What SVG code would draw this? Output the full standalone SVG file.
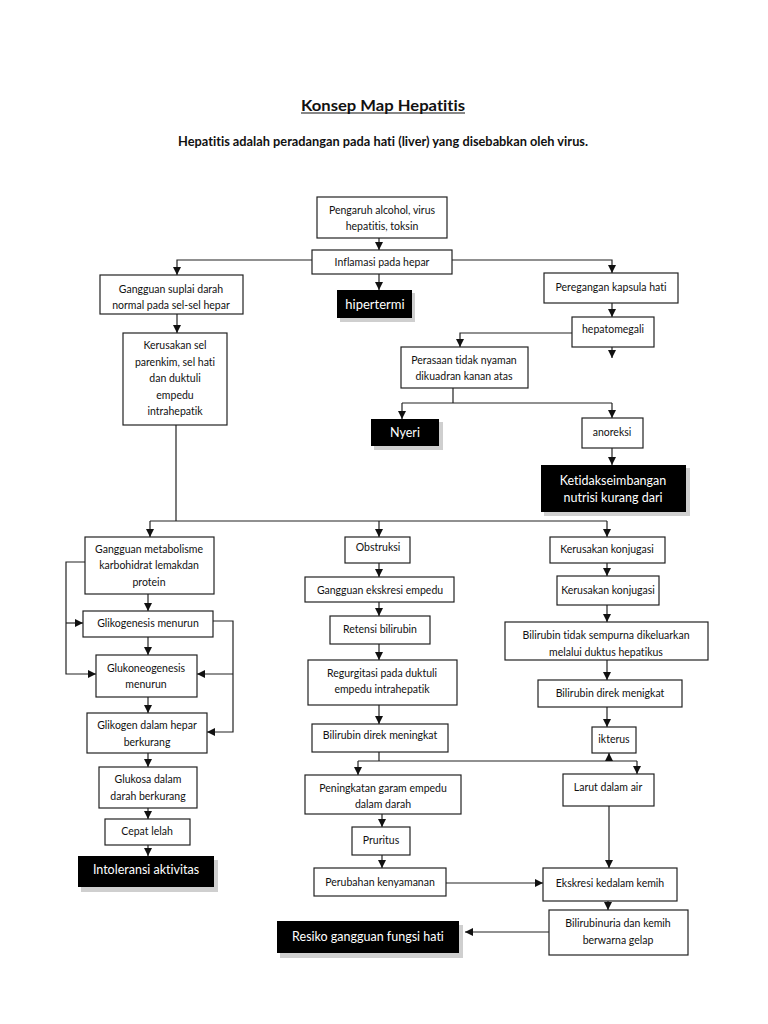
<svg xmlns="http://www.w3.org/2000/svg" width="768" height="1024" viewBox="0 0 768 1024">
<defs>
<marker id="ah" markerWidth="8" markerHeight="8" refX="8" refY="4" orient="auto" markerUnits="userSpaceOnUse"><path d="M0,0 L8,4 L0,8 z" fill="#111"/></marker>
<style>
.b{fill:#fff;stroke:#222;stroke-width:1.2}
.k{fill:#000}
.s{fill:#cfcfcf}
text{font-family:Lato,"Open Sans","Liberation Sans",sans-serif;text-anchor:middle;dominant-baseline:central;font-variant-ligatures:none}
.t{font-size:10.5px;fill:#111}
.w{font-size:12.5px;fill:#fff}
.c{fill:none;stroke:#222;stroke-width:1.2;marker-end:url(#ah)}
.l{fill:none;stroke:#222;stroke-width:1.2}
</style>
</defs>
<rect width="768" height="1024" fill="#fff"/>
<text x="383" y="104" font-size="16" font-weight="bold" fill="#111" textLength="164" lengthAdjust="spacingAndGlyphs">Konsep Map Hepatitis</text>
<line x1="301" y1="113" x2="465" y2="113" stroke="#111" stroke-width="1.2"/>
<text x="383" y="141" font-size="12.5" font-weight="bold" fill="#111" textLength="410" lengthAdjust="spacingAndGlyphs">Hepatitis adalah peradangan pada hati (liver) yang disebabkan oleh virus.</text>

<g id="connectors">
<path class="c" d="M379,238 V250"/>
<path class="c" d="M379,274 V290"/>
<path class="c" d="M312,260 H177 V275"/>
<path class="c" d="M452,260 H612 V273"/>
<path class="c" d="M612,303 V317"/>
<path class="c" d="M612,347 V358"/>
<path class="c" d="M572,333 H460 V347"/>
<path class="c" d="M177,314 V333"/>
<path class="l" d="M453,388 V403 M402,403 H612"/>
<path class="c" d="M402,403 V419"/>
<path class="c" d="M612,403 V418"/>
<path class="c" d="M612,448 V465"/>
<path class="l" d="M176,425 V521 M150,521 H607"/>
<path class="c" d="M150,521 V537"/>
<path class="c" d="M379,521 V537"/>
<path class="c" d="M607,521 V537"/>
<path class="c" d="M148,594 V611"/>
<path class="c" d="M148,637 V655"/>
<path class="c" d="M148,697 V713"/>
<path class="c" d="M148,753 V767"/>
<path class="c" d="M148,808 V819"/>
<path class="c" d="M148,845 V856"/>
<path class="c" d="M85,562 H66 V674 H96"/>
<path class="c" d="M66,623 H83"/>
<path class="c" d="M213,621 H233 V732 H207"/>
<path class="c" d="M233,674 H197"/>
<path class="c" d="M379,563 V577"/>
<path class="c" d="M379,602 V616"/>
<path class="c" d="M379,644 V660"/>
<path class="c" d="M379,705 V724"/>
<path class="l" d="M379,752 V761 M358,761 H637"/>
<path class="c" d="M358,761 V775"/>
<path class="c" d="M637,761 V774"/>
<path class="c" d="M609,761 V753"/>
<path class="c" d="M382,814 V827"/>
<path class="c" d="M382,855 V868"/>
<path class="c" d="M446,883 H543"/>
<path class="c" d="M609,806 V868"/>
<path class="c" d="M608,901 V910"/>
<path class="c" d="M549,932 H465"/>
<path class="c" d="M607,563 V576"/>
<path class="c" d="M607,605 V622"/>
<path class="c" d="M607,660 V680"/>
<path class="c" d="M607,707 V727"/>
</g>

<g id="n-pengaruh"><rect class="b" x="317" y="197" width="130" height="41"/><text class="t" x="382" y="210">Pengaruh alcohol, virus</text><text class="t" x="382" y="226">hepatitis, toksin</text></g>
<g id="n-inflamasi"><rect class="b" x="312" y="250" width="140" height="24"/><text class="t" x="382" y="262">Inflamasi pada hepar</text></g>
<g id="n-hipertermi"><rect class="s" x="340" y="293" width="75" height="29"/><rect class="k" x="337" y="290" width="75" height="28"/><text class="w" x="375" y="304" style="font-size:13px">hipertermi</text></g>
<g id="n-suplai"><rect class="b" x="100" y="275" width="143" height="39"/><text class="t" x="171" y="289">Gangguan suplai darah</text><text class="t" x="171" y="305">normal pada sel-sel hepar</text></g>
<g id="n-peregangan"><rect class="b" x="544" y="273" width="134" height="30"/><text class="t" x="611" y="287">Peregangan kapsula hati</text></g>
<g id="n-hepatomegali"><rect class="b" x="572" y="317" width="82" height="30"/><text class="t" x="613" y="329">hepatomegali</text></g>
<g id="n-perasaan"><rect class="b" x="401" y="347" width="127" height="41"/><text class="t" x="464" y="360">Perasaan tidak nyaman</text><text class="t" x="464" y="376">dikuadran kanan atas</text></g>
<g id="n-kerusakan-sel"><rect class="b" x="123" y="333" width="104" height="92"/><text class="t" x="175" y="345">Kerusakan sel</text><text class="t" x="175" y="362">parenkim, sel hati</text><text class="t" x="175" y="378">dan duktuli</text><text class="t" x="175" y="395">empedu</text><text class="t" x="175" y="411">intrahepatik</text></g>
<g id="n-nyeri"><rect class="s" x="374" y="422" width="69" height="28"/><rect class="k" x="371" y="419" width="68" height="27"/><text class="w" x="405" y="432">Nyeri</text></g>
<g id="n-anoreksi"><rect class="b" x="582" y="418" width="61" height="30"/><text class="t" x="612" y="432">anoreksi</text></g>
<g id="n-ketidak"><rect class="s" x="544" y="468" width="146" height="48"/><rect class="k" x="541" y="465" width="145" height="47"/><text class="w" x="613" y="480">Ketidakseimbangan</text><text class="w" x="613" y="497">nutrisi kurang dari</text></g>

<g id="n-metabolisme"><rect class="b" x="85" y="537" width="129" height="57"/><text class="t" x="149" y="549">Gangguan metabolisme</text><text class="t" x="149" y="565">karbohidrat lemakdan</text><text class="t" x="149" y="582">protein</text></g>
<g id="n-glikogenesis"><rect class="b" x="83" y="611" width="130" height="26"/><text class="t" x="148" y="623">Glikogenesis menurun</text></g>
<g id="n-glukoneogenesis"><rect class="b" x="96" y="655" width="101" height="42"/><text class="t" x="146" y="668">Glukoneogenesis</text><text class="t" x="146" y="684">menurun</text></g>
<g id="n-glikogen"><rect class="b" x="87" y="713" width="120" height="40"/><text class="t" x="147" y="725">Glikogen dalam hepar</text><text class="t" x="147" y="742">berkurang</text></g>
<g id="n-glukosa"><rect class="b" x="99" y="767" width="98" height="41"/><text class="t" x="148" y="779">Glukosa dalam</text><text class="t" x="148" y="796">darah berkurang</text></g>
<g id="n-cepat"><rect class="b" x="105" y="819" width="85" height="26"/><text class="t" x="147" y="831">Cepat lelah</text></g>
<g id="n-intoleransi"><rect class="s" x="81" y="860" width="137" height="32"/><rect class="k" x="78" y="856" width="136" height="31"/><text class="w" x="146" y="869">Intoleransi aktivitas</text></g>

<g id="n-obstruksi"><rect class="b" x="345" y="537" width="65" height="26"/><text class="t" x="378" y="547">Obstruksi</text></g>
<g id="n-ekskresi-empedu"><rect class="b" x="305" y="577" width="149" height="25"/><text class="t" x="380" y="590">Gangguan ekskresi empedu</text></g>
<g id="n-retensi"><rect class="b" x="330" y="616" width="100" height="28"/><text class="t" x="380" y="629">Retensi bilirubin</text></g>
<g id="n-regurgitasi"><rect class="b" x="308" y="660" width="149" height="45"/><text class="t" x="382" y="673">Regurgitasi pada duktuli</text><text class="t" x="382" y="689">empedu intrahepatik</text></g>
<g id="n-direk-meningkat"><rect class="b" x="312" y="724" width="136" height="28"/><text class="t" x="380" y="735">Bilirubin direk meningkat</text></g>
<g id="n-garam"><rect class="b" x="305" y="775" width="156" height="39"/><text class="t" x="383" y="788">Peningkatan garam empedu</text><text class="t" x="383" y="804">dalam darah</text></g>
<g id="n-pruritus"><rect class="b" x="352" y="827" width="58" height="28"/><text class="t" x="381" y="840">Pruritus</text></g>
<g id="n-perubahan"><rect class="b" x="314" y="868" width="132" height="28"/><text class="t" x="380" y="882">Perubahan kenyamanan</text></g>

<g id="n-konjugasi1"><rect class="b" x="550" y="537" width="115" height="26"/><text class="t" x="607" y="549">Kerusakan konjugasi</text></g>
<g id="n-konjugasi2"><rect class="b" x="557" y="576" width="102" height="29"/><text class="t" x="608" y="590">Kerusakan konjugasi</text></g>
<g id="n-tidak-sempurna"><rect class="b" x="505" y="622" width="203" height="38"/><text class="t" x="606" y="635">Bilirubin tidak sempurna dikeluarkan</text><text class="t" x="606" y="652">melalui duktus hepatikus</text></g>
<g id="n-direk-menigkat"><rect class="b" x="538" y="680" width="144" height="27"/><text class="t" x="610" y="693">Bilirubin direk menigkat</text></g>
<g id="n-ikterus"><rect class="b" x="592" y="727" width="44" height="26"/><text class="t" x="614" y="739">ikterus</text></g>
<g id="n-larut"><rect class="b" x="563" y="774" width="91" height="32"/><text class="t" x="608" y="787">Larut dalam air</text></g>
<g id="n-ekskresi-kemih"><rect class="b" x="543" y="868" width="134" height="33"/><text class="t" x="610" y="883">Ekskresi kedalam kemih</text></g>
<g id="n-bilirubinuria"><rect class="b" x="549" y="910" width="139" height="45"/><text class="t" x="618" y="923">Bilirubinuria dan kemih</text><text class="t" x="618" y="940">berwarna gelap</text></g>
<g id="n-resiko"><rect class="s" x="280" y="925" width="183" height="33"/><rect class="k" x="277" y="921" width="182" height="32"/><text class="w" x="368" y="936">Resiko gangguan fungsi hati</text></g>
</svg>
